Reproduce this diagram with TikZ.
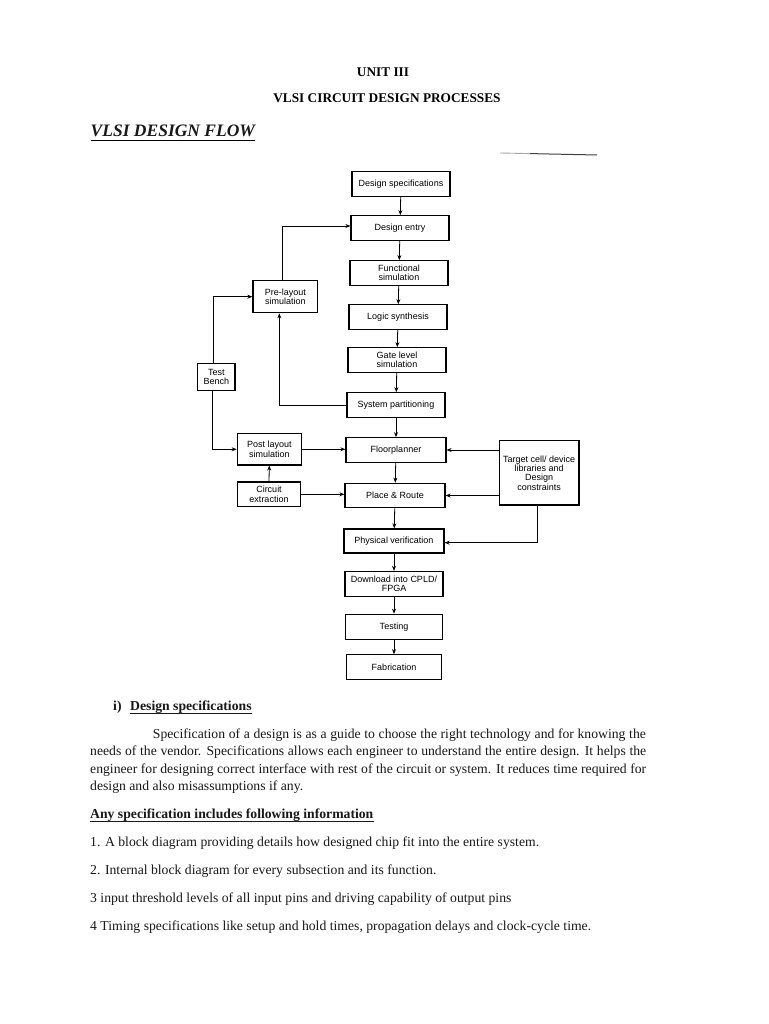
\documentclass[tikz,border=0pt]{standalone}
\usepackage{fontspec}
\setmainfont{Liberation Serif}
\newfontfamily\boxfont{Liberation Sans}
\usetikzlibrary{arrows.meta}
\begin{document}
\begin{tikzpicture}[x=1pt,y=-1pt,
  box/.style={draw=black, line width=1.2pt, font=\boxfont\fontsize{9}{9.4}\selectfont, align=center, inner sep=1pt, text=black},
  mainbox/.style={box, minimum width=98pt, minimum height=24.5pt},
  arr/.style={-{Stealth[length=5pt,width=4pt]}, line width=0.8pt},
  txt/.style={anchor=base west, inner sep=0pt, text=black!90, font=\fontsize{13.7}{17.5}\selectfont},
  btxt/.style={txt, font=\bfseries\fontsize{13.7}{17.5}\selectfont},
  uline/.style={line width=0.9pt, black!90}
]
\useasboundingbox (0,0) rectangle (768,1024);
\fill[white] (0,0) rectangle (768,1024);

% headings
\node[inner sep=0pt, anchor=base, font=\bfseries\fontsize{13.3}{16}\selectfont] (unit) at (383,77) {UNIT III};
\node[inner sep=0pt, anchor=base, font=\bfseries\fontsize{13.3}{16}\selectfont] (vcdp) at (387,102.5) {VLSI CIRCUIT DESIGN PROCESSES};
\node[txt, font=\bfseries\itshape\fontsize{17.5}{20}\selectfont] (vdf) at (90.5,137) {VLSI DESIGN FLOW};
\draw[line width=1.3pt] ([yshift=-3.5pt]vdf.base west) -- ([yshift=-3.5pt]vdf.base east);

% scan stroke top right
\draw[line width=0.9pt, black!35] (500,153) -- (530,153.6);
\draw[line width=1pt, black!75] (530,153.6) -- (597,155);

% main column
\node[mainbox] (ds) at (401,184) {Design specifications};
\node[mainbox] (de) at (400,228) {Design entry};
\node[mainbox] (fs) at (399,273) {Functional\\simulation};
\node[mainbox] (ls) at (398,317) {Logic synthesis};
\node[mainbox] (gl) at (397,360) {Gate level\\simulation};
\node[mainbox] (sp) at (396,405) {System partitioning};
\node[mainbox, minimum width=100pt] (fp) at (396,450) {Floorplanner};
\node[mainbox, minimum width=100pt] (pr) at (395,495.5) {Place \& Route};
\node[mainbox, minimum width=100pt, minimum height=24pt] (pv) at (394,541) {Physical verification};
\node[mainbox, minimum height=25pt] (dl) at (394,584) {Download into CPLD/\\FPGA};
\node[mainbox, minimum width=97pt, minimum height=25.5pt] (te) at (394,627) {Testing};
\node[mainbox, minimum width=95pt] (fb) at (394,667) {Fabrication};

% side boxes
\node[box, minimum width=64.7pt, minimum height=32pt] (pre) at (285.3,296.7) {Pre-layout\\simulation};
\node[box, minimum width=37.3pt, minimum height=26.3pt] (tb) at (216.3,377) {Test\\Bench};
\node[box, minimum width=64pt, minimum height=31.3pt] (post) at (269.3,449.3) {Post layout\\simulation};
\node[box, minimum width=63.4pt, minimum height=24.7pt] (ce) at (269,494.3) {Circuit\\extraction};
\node[box, minimum width=79.7pt, minimum height=64.3pt, inner sep=0pt] (tc) at (539.2,472.9) {Target cell/ device\\libraries and\\Design\\constraints};

% main chain
\draw[arr] (ds) -- (de);
\draw[arr] (de) -- (fs);
\draw[arr] (fs) -- (ls);
\draw[arr] (ls) -- (gl);
\draw[arr] (gl) -- (sp);
\draw[arr] (sp) -- (fp);
\draw[arr] (fp) -- (pr);
\draw[arr] (pr) -- (pv);
\draw[arr] (pv) -- (dl);
\draw[arr] (dl) -- (te);
\draw[arr] (te) -- (fb);

% feedback / side connectors
\draw[arr] ([xshift=-3pt]pre.north) |- ([yshift=2pt]de.west);
\draw[arr] (sp.west) -| ([xshift=-6pt]pre.south);
\draw[arr] ([xshift=-2.5pt]tb.north) |- (pre.west);
\draw[arr] ([xshift=-4pt]tb.south) |- (post.west);
\draw[arr] (post.east) -- (post.east -| fp.west);
\draw[arr] (ce.north) -- (post.south);
\draw[arr] (ce.east) -- (ce.east -| pr.west);
\draw[arr] (tc.west |- fp.east) -- (fp.east);
\draw[arr] (tc.west |- pr.east) -- (pr.east);
\draw[arr] ([xshift=-2pt]tc.south) |- ([yshift=-1.7pt]pv.east);

% body text
\node[btxt] (ii) at (113,710) {i)};
\node[btxt] (dsh) at (130,710) {Design specifications};
\draw[uline] ([yshift=-3pt]dsh.base west) -- ([yshift=-3pt]dsh.base east);

\node[txt] (p1) at (152.7,738) {\makebox[493pt][s]{Specification of a design is as a guide to choose the right technology and for knowing the}};
\node[txt] (p2) at (90,755.5) {\makebox[556pt][s]{needs of the vendor. Specifications allows each engineer to understand the entire design. It helps the}};
\node[txt] (p3) at (90,773) {\makebox[556pt][s]{engineer for designing correct interface with rest of the circuit or system. It reduces time required for}};
\node[txt] (p4) at (90,790.5) {design and also misassumptions if any.};

\node[btxt] (any) at (90,818) {Any specification includes following information};
\draw[uline] ([yshift=-3.5pt]any.base west) -- ([yshift=-3.5pt]any.base east);

\node[txt] (i1) at (90,846) {1. A block diagram providing details how designed chip fit into the entire system.};
\node[txt] (i2) at (90,874) {2. Internal block diagram for every subsection and its function.};
\node[txt] (i3) at (90,902) {3 input threshold levels of all input pins and driving capability of output pins};
\node[txt] (i4) at (90,930) {4 Timing specifications like setup and hold times, propagation delays and clock-cycle time.};
\end{tikzpicture}
\end{document}
